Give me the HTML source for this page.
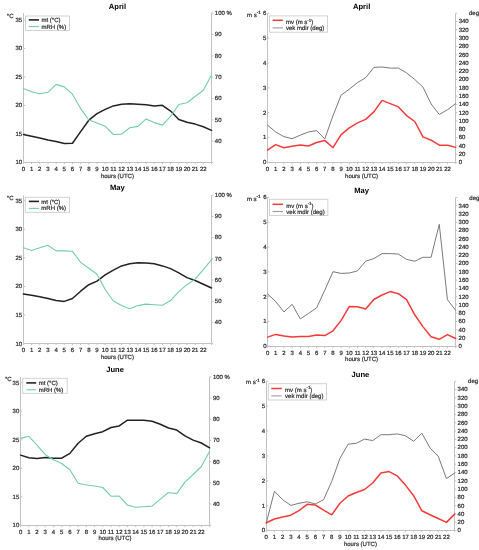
<!DOCTYPE html>
<html><head><meta charset="utf-8"><title>Monthly diurnal cycles</title>
<style>
html,body{margin:0;padding:0;background:#fff;}
body{width:479px;height:550px;overflow:hidden;}
svg{display:block;font-family:'Liberation Sans', Arial, sans-serif;text-rendering:geometricPrecision;}
</style></head><body>
<svg width="479" height="550" viewBox="0 0 479 550">
<rect width="479" height="550" fill="#fff"/>
<path d="M23.5 13.1V162.5H211.5V13.1" fill="none" stroke="#c2c2c2" stroke-width="1"/>
<line x1="23.5" y1="162.4" x2="25.3" y2="162.4" stroke="#c2c2c2" stroke-width="1"/>
<text x="22.1" y="164.25" font-size="6" text-anchor="end" font-weight="normal" fill="#2e2e2e" stroke="#2e2e2e" stroke-width="0.22">10</text>
<line x1="23.5" y1="133.9" x2="25.3" y2="133.9" stroke="#c2c2c2" stroke-width="1"/>
<text x="22.1" y="135.75" font-size="6" text-anchor="end" font-weight="normal" fill="#2e2e2e" stroke="#2e2e2e" stroke-width="0.22">15</text>
<line x1="23.5" y1="105.4" x2="25.3" y2="105.4" stroke="#c2c2c2" stroke-width="1"/>
<text x="22.1" y="107.25" font-size="6" text-anchor="end" font-weight="normal" fill="#2e2e2e" stroke="#2e2e2e" stroke-width="0.22">20</text>
<line x1="23.5" y1="76.9" x2="25.3" y2="76.9" stroke="#c2c2c2" stroke-width="1"/>
<text x="22.1" y="78.75" font-size="6" text-anchor="end" font-weight="normal" fill="#2e2e2e" stroke="#2e2e2e" stroke-width="0.22">25</text>
<line x1="23.5" y1="48.4" x2="25.3" y2="48.4" stroke="#c2c2c2" stroke-width="1"/>
<text x="22.1" y="50.25" font-size="6" text-anchor="end" font-weight="normal" fill="#2e2e2e" stroke="#2e2e2e" stroke-width="0.22">30</text>
<line x1="23.5" y1="19.9" x2="25.3" y2="19.9" stroke="#c2c2c2" stroke-width="1"/>
<text x="22.1" y="21.75" font-size="6" text-anchor="end" font-weight="normal" fill="#2e2e2e" stroke="#2e2e2e" stroke-width="0.22">35</text>
<line x1="211.5" y1="162.5" x2="213.3" y2="162.5" stroke="#c2c2c2" stroke-width="1"/>
<line x1="211.5" y1="141.16" x2="213.3" y2="141.16" stroke="#c2c2c2" stroke-width="1"/>
<text x="214.8" y="143.01" font-size="6" text-anchor="start" font-weight="normal" fill="#2e2e2e" stroke="#2e2e2e" stroke-width="0.22">40</text>
<line x1="211.5" y1="119.81" x2="213.3" y2="119.81" stroke="#c2c2c2" stroke-width="1"/>
<text x="214.8" y="121.66" font-size="6" text-anchor="start" font-weight="normal" fill="#2e2e2e" stroke="#2e2e2e" stroke-width="0.22">50</text>
<line x1="211.5" y1="98.47" x2="213.3" y2="98.47" stroke="#c2c2c2" stroke-width="1"/>
<text x="214.8" y="100.32" font-size="6" text-anchor="start" font-weight="normal" fill="#2e2e2e" stroke="#2e2e2e" stroke-width="0.22">60</text>
<line x1="211.5" y1="77.13" x2="213.3" y2="77.13" stroke="#c2c2c2" stroke-width="1"/>
<text x="214.8" y="78.98" font-size="6" text-anchor="start" font-weight="normal" fill="#2e2e2e" stroke="#2e2e2e" stroke-width="0.22">70</text>
<line x1="211.5" y1="55.79" x2="213.3" y2="55.79" stroke="#c2c2c2" stroke-width="1"/>
<text x="214.8" y="57.64" font-size="6" text-anchor="start" font-weight="normal" fill="#2e2e2e" stroke="#2e2e2e" stroke-width="0.22">80</text>
<line x1="211.5" y1="34.44" x2="213.3" y2="34.44" stroke="#c2c2c2" stroke-width="1"/>
<text x="214.8" y="36.29" font-size="6" text-anchor="start" font-weight="normal" fill="#2e2e2e" stroke="#2e2e2e" stroke-width="0.22">90</text>
<line x1="211.5" y1="13.1" x2="213.3" y2="13.1" stroke="#c2c2c2" stroke-width="1"/>
<text x="214.8" y="14.95" font-size="6" text-anchor="start" font-weight="normal" fill="#2e2e2e" stroke="#2e2e2e" stroke-width="0.22">100 %</text>
<text x="6.8" y="18.2" font-size="6" text-anchor="start" font-weight="normal" fill="#2e2e2e" stroke="#2e2e2e" stroke-width="0.22">&#176;C</text>
<line x1="23.4" y1="162.5" x2="23.4" y2="164.1" stroke="#c2c2c2" stroke-width="1"/>
<text x="23.4" y="171" font-size="6" text-anchor="middle" font-weight="normal" fill="#2e2e2e" stroke="#2e2e2e" stroke-width="0.22">0</text>
<line x1="31.58" y1="162.5" x2="31.58" y2="164.1" stroke="#c2c2c2" stroke-width="1"/>
<text x="31.58" y="171" font-size="6" text-anchor="middle" font-weight="normal" fill="#2e2e2e" stroke="#2e2e2e" stroke-width="0.22">1</text>
<line x1="39.76" y1="162.5" x2="39.76" y2="164.1" stroke="#c2c2c2" stroke-width="1"/>
<text x="39.76" y="171" font-size="6" text-anchor="middle" font-weight="normal" fill="#2e2e2e" stroke="#2e2e2e" stroke-width="0.22">2</text>
<line x1="47.93" y1="162.5" x2="47.93" y2="164.1" stroke="#c2c2c2" stroke-width="1"/>
<text x="47.93" y="171" font-size="6" text-anchor="middle" font-weight="normal" fill="#2e2e2e" stroke="#2e2e2e" stroke-width="0.22">3</text>
<line x1="56.11" y1="162.5" x2="56.11" y2="164.1" stroke="#c2c2c2" stroke-width="1"/>
<text x="56.11" y="171" font-size="6" text-anchor="middle" font-weight="normal" fill="#2e2e2e" stroke="#2e2e2e" stroke-width="0.22">4</text>
<line x1="64.29" y1="162.5" x2="64.29" y2="164.1" stroke="#c2c2c2" stroke-width="1"/>
<text x="64.29" y="171" font-size="6" text-anchor="middle" font-weight="normal" fill="#2e2e2e" stroke="#2e2e2e" stroke-width="0.22">5</text>
<line x1="72.47" y1="162.5" x2="72.47" y2="164.1" stroke="#c2c2c2" stroke-width="1"/>
<text x="72.47" y="171" font-size="6" text-anchor="middle" font-weight="normal" fill="#2e2e2e" stroke="#2e2e2e" stroke-width="0.22">6</text>
<line x1="80.65" y1="162.5" x2="80.65" y2="164.1" stroke="#c2c2c2" stroke-width="1"/>
<text x="80.65" y="171" font-size="6" text-anchor="middle" font-weight="normal" fill="#2e2e2e" stroke="#2e2e2e" stroke-width="0.22">7</text>
<line x1="88.83" y1="162.5" x2="88.83" y2="164.1" stroke="#c2c2c2" stroke-width="1"/>
<text x="88.83" y="171" font-size="6" text-anchor="middle" font-weight="normal" fill="#2e2e2e" stroke="#2e2e2e" stroke-width="0.22">8</text>
<line x1="97" y1="162.5" x2="97" y2="164.1" stroke="#c2c2c2" stroke-width="1"/>
<text x="97" y="171" font-size="6" text-anchor="middle" font-weight="normal" fill="#2e2e2e" stroke="#2e2e2e" stroke-width="0.22">9</text>
<line x1="105.18" y1="162.5" x2="105.18" y2="164.1" stroke="#c2c2c2" stroke-width="1"/>
<text x="105.18" y="171" font-size="6" text-anchor="middle" font-weight="normal" fill="#2e2e2e" stroke="#2e2e2e" stroke-width="0.22">10</text>
<line x1="113.36" y1="162.5" x2="113.36" y2="164.1" stroke="#c2c2c2" stroke-width="1"/>
<text x="113.36" y="171" font-size="6" text-anchor="middle" font-weight="normal" fill="#2e2e2e" stroke="#2e2e2e" stroke-width="0.22">11</text>
<line x1="121.54" y1="162.5" x2="121.54" y2="164.1" stroke="#c2c2c2" stroke-width="1"/>
<text x="121.54" y="171" font-size="6" text-anchor="middle" font-weight="normal" fill="#2e2e2e" stroke="#2e2e2e" stroke-width="0.22">12</text>
<line x1="129.72" y1="162.5" x2="129.72" y2="164.1" stroke="#c2c2c2" stroke-width="1"/>
<text x="129.72" y="171" font-size="6" text-anchor="middle" font-weight="normal" fill="#2e2e2e" stroke="#2e2e2e" stroke-width="0.22">13</text>
<line x1="137.9" y1="162.5" x2="137.9" y2="164.1" stroke="#c2c2c2" stroke-width="1"/>
<text x="137.9" y="171" font-size="6" text-anchor="middle" font-weight="normal" fill="#2e2e2e" stroke="#2e2e2e" stroke-width="0.22">14</text>
<line x1="146.07" y1="162.5" x2="146.07" y2="164.1" stroke="#c2c2c2" stroke-width="1"/>
<text x="146.07" y="171" font-size="6" text-anchor="middle" font-weight="normal" fill="#2e2e2e" stroke="#2e2e2e" stroke-width="0.22">15</text>
<line x1="154.25" y1="162.5" x2="154.25" y2="164.1" stroke="#c2c2c2" stroke-width="1"/>
<text x="154.25" y="171" font-size="6" text-anchor="middle" font-weight="normal" fill="#2e2e2e" stroke="#2e2e2e" stroke-width="0.22">16</text>
<line x1="162.43" y1="162.5" x2="162.43" y2="164.1" stroke="#c2c2c2" stroke-width="1"/>
<text x="162.43" y="171" font-size="6" text-anchor="middle" font-weight="normal" fill="#2e2e2e" stroke="#2e2e2e" stroke-width="0.22">17</text>
<line x1="170.61" y1="162.5" x2="170.61" y2="164.1" stroke="#c2c2c2" stroke-width="1"/>
<text x="170.61" y="171" font-size="6" text-anchor="middle" font-weight="normal" fill="#2e2e2e" stroke="#2e2e2e" stroke-width="0.22">18</text>
<line x1="178.79" y1="162.5" x2="178.79" y2="164.1" stroke="#c2c2c2" stroke-width="1"/>
<text x="178.79" y="171" font-size="6" text-anchor="middle" font-weight="normal" fill="#2e2e2e" stroke="#2e2e2e" stroke-width="0.22">19</text>
<line x1="186.97" y1="162.5" x2="186.97" y2="164.1" stroke="#c2c2c2" stroke-width="1"/>
<text x="186.97" y="171" font-size="6" text-anchor="middle" font-weight="normal" fill="#2e2e2e" stroke="#2e2e2e" stroke-width="0.22">20</text>
<line x1="195.14" y1="162.5" x2="195.14" y2="164.1" stroke="#c2c2c2" stroke-width="1"/>
<text x="195.14" y="171" font-size="6" text-anchor="middle" font-weight="normal" fill="#2e2e2e" stroke="#2e2e2e" stroke-width="0.22">21</text>
<line x1="203.32" y1="162.5" x2="203.32" y2="164.1" stroke="#c2c2c2" stroke-width="1"/>
<text x="203.32" y="171" font-size="6" text-anchor="middle" font-weight="normal" fill="#2e2e2e" stroke="#2e2e2e" stroke-width="0.22">22</text>
<line x1="211.5" y1="162.5" x2="211.5" y2="164.1" stroke="#c2c2c2" stroke-width="1"/>
<text x="117.45" y="177.6" font-size="6" text-anchor="middle" font-weight="normal" fill="#2e2e2e" stroke="#2e2e2e" stroke-width="0.22">hours (UTC)</text>
<text x="117.45" y="8.6" font-size="7.6" text-anchor="middle" font-weight="bold" fill="#000">April</text>
<polyline points="23.4,134.5 31.58,136.2 39.76,138 47.93,140.1 56.11,141.4 64.29,143.5 72.47,143.3 80.65,131.6 88.83,120.2 97,113.6 105.18,109.4 113.36,105.9 121.54,104.3 129.72,103.8 137.9,104.3 146.07,104.7 154.25,106.1 162.43,105.3 170.61,111.1 178.79,119.5 186.97,122.2 195.14,124.1 203.32,126.8 211.5,130.4" fill="none" stroke="#222222" stroke-width="1.5" stroke-linejoin="round" stroke-linecap="round"/>
<polyline points="23.4,88.6 31.58,91.7 39.76,93.8 47.93,92.3 56.11,84.4 64.29,86.9 72.47,94.2 80.65,108.6 88.83,120 97,123 105.18,126.3 113.36,134.5 121.54,134.1 129.72,127.8 137.9,126.4 146.07,118.9 154.25,122.6 162.43,125.1 170.61,116.4 178.79,104.5 186.97,102.8 195.14,96.5 203.32,90.3 211.5,75" fill="none" stroke="#74cfa2" stroke-width="1.1" stroke-linejoin="round" stroke-linecap="round"/>
<rect x="25.5" y="16" width="43.9" height="14.4" fill="#fff" stroke="#c8c8c8" stroke-width="0.8"/>
<line x1="28.8" y1="19.9" x2="39" y2="19.9" stroke="#222222" stroke-width="1.6"/>
<line x1="28.8" y1="26.6" x2="39" y2="26.6" stroke="#74cfa2" stroke-width="1.1"/>
<text x="41.5" y="22" font-size="6" text-anchor="start" font-weight="normal" fill="#2e2e2e" stroke="#2e2e2e" stroke-width="0.22">mt (&#176;C)</text>
<text x="41.5" y="28.8" font-size="6" text-anchor="start" font-weight="normal" fill="#2e2e2e" stroke="#2e2e2e" stroke-width="0.22">mRH (%)</text>
<path d="M23.5 195.25V343.5H211.5V195.25" fill="none" stroke="#c2c2c2" stroke-width="1"/>
<line x1="23.5" y1="343.7" x2="25.3" y2="343.7" stroke="#c2c2c2" stroke-width="1"/>
<text x="22.1" y="345.55" font-size="6" text-anchor="end" font-weight="normal" fill="#2e2e2e" stroke="#2e2e2e" stroke-width="0.22">10</text>
<line x1="23.5" y1="315.1" x2="25.3" y2="315.1" stroke="#c2c2c2" stroke-width="1"/>
<text x="22.1" y="316.95" font-size="6" text-anchor="end" font-weight="normal" fill="#2e2e2e" stroke="#2e2e2e" stroke-width="0.22">15</text>
<line x1="23.5" y1="286.5" x2="25.3" y2="286.5" stroke="#c2c2c2" stroke-width="1"/>
<text x="22.1" y="288.35" font-size="6" text-anchor="end" font-weight="normal" fill="#2e2e2e" stroke="#2e2e2e" stroke-width="0.22">20</text>
<line x1="23.5" y1="257.9" x2="25.3" y2="257.9" stroke="#c2c2c2" stroke-width="1"/>
<text x="22.1" y="259.75" font-size="6" text-anchor="end" font-weight="normal" fill="#2e2e2e" stroke="#2e2e2e" stroke-width="0.22">25</text>
<line x1="23.5" y1="229.3" x2="25.3" y2="229.3" stroke="#c2c2c2" stroke-width="1"/>
<text x="22.1" y="231.15" font-size="6" text-anchor="end" font-weight="normal" fill="#2e2e2e" stroke="#2e2e2e" stroke-width="0.22">30</text>
<line x1="23.5" y1="200.7" x2="25.3" y2="200.7" stroke="#c2c2c2" stroke-width="1"/>
<text x="22.1" y="202.55" font-size="6" text-anchor="end" font-weight="normal" fill="#2e2e2e" stroke="#2e2e2e" stroke-width="0.22">35</text>
<line x1="211.5" y1="343.6" x2="213.3" y2="343.6" stroke="#c2c2c2" stroke-width="1"/>
<line x1="211.5" y1="322.41" x2="213.3" y2="322.41" stroke="#c2c2c2" stroke-width="1"/>
<text x="214.8" y="324.26" font-size="6" text-anchor="start" font-weight="normal" fill="#2e2e2e" stroke="#2e2e2e" stroke-width="0.22">40</text>
<line x1="211.5" y1="301.21" x2="213.3" y2="301.21" stroke="#c2c2c2" stroke-width="1"/>
<text x="214.8" y="303.06" font-size="6" text-anchor="start" font-weight="normal" fill="#2e2e2e" stroke="#2e2e2e" stroke-width="0.22">50</text>
<line x1="211.5" y1="280.02" x2="213.3" y2="280.02" stroke="#c2c2c2" stroke-width="1"/>
<text x="214.8" y="281.87" font-size="6" text-anchor="start" font-weight="normal" fill="#2e2e2e" stroke="#2e2e2e" stroke-width="0.22">60</text>
<line x1="211.5" y1="258.83" x2="213.3" y2="258.83" stroke="#c2c2c2" stroke-width="1"/>
<text x="214.8" y="260.68" font-size="6" text-anchor="start" font-weight="normal" fill="#2e2e2e" stroke="#2e2e2e" stroke-width="0.22">70</text>
<line x1="211.5" y1="237.64" x2="213.3" y2="237.64" stroke="#c2c2c2" stroke-width="1"/>
<text x="214.8" y="239.49" font-size="6" text-anchor="start" font-weight="normal" fill="#2e2e2e" stroke="#2e2e2e" stroke-width="0.22">80</text>
<line x1="211.5" y1="216.44" x2="213.3" y2="216.44" stroke="#c2c2c2" stroke-width="1"/>
<text x="214.8" y="218.29" font-size="6" text-anchor="start" font-weight="normal" fill="#2e2e2e" stroke="#2e2e2e" stroke-width="0.22">90</text>
<line x1="211.5" y1="195.25" x2="213.3" y2="195.25" stroke="#c2c2c2" stroke-width="1"/>
<text x="214.8" y="197.1" font-size="6" text-anchor="start" font-weight="normal" fill="#2e2e2e" stroke="#2e2e2e" stroke-width="0.22">100 %</text>
<text x="6.8" y="200.2" font-size="6" text-anchor="start" font-weight="normal" fill="#2e2e2e" stroke="#2e2e2e" stroke-width="0.22">&#176;C</text>
<line x1="23.4" y1="343.5" x2="23.4" y2="345.1" stroke="#c2c2c2" stroke-width="1"/>
<text x="23.4" y="352.1" font-size="6" text-anchor="middle" font-weight="normal" fill="#2e2e2e" stroke="#2e2e2e" stroke-width="0.22">0</text>
<line x1="31.58" y1="343.5" x2="31.58" y2="345.1" stroke="#c2c2c2" stroke-width="1"/>
<text x="31.58" y="352.1" font-size="6" text-anchor="middle" font-weight="normal" fill="#2e2e2e" stroke="#2e2e2e" stroke-width="0.22">1</text>
<line x1="39.76" y1="343.5" x2="39.76" y2="345.1" stroke="#c2c2c2" stroke-width="1"/>
<text x="39.76" y="352.1" font-size="6" text-anchor="middle" font-weight="normal" fill="#2e2e2e" stroke="#2e2e2e" stroke-width="0.22">2</text>
<line x1="47.93" y1="343.5" x2="47.93" y2="345.1" stroke="#c2c2c2" stroke-width="1"/>
<text x="47.93" y="352.1" font-size="6" text-anchor="middle" font-weight="normal" fill="#2e2e2e" stroke="#2e2e2e" stroke-width="0.22">3</text>
<line x1="56.11" y1="343.5" x2="56.11" y2="345.1" stroke="#c2c2c2" stroke-width="1"/>
<text x="56.11" y="352.1" font-size="6" text-anchor="middle" font-weight="normal" fill="#2e2e2e" stroke="#2e2e2e" stroke-width="0.22">4</text>
<line x1="64.29" y1="343.5" x2="64.29" y2="345.1" stroke="#c2c2c2" stroke-width="1"/>
<text x="64.29" y="352.1" font-size="6" text-anchor="middle" font-weight="normal" fill="#2e2e2e" stroke="#2e2e2e" stroke-width="0.22">5</text>
<line x1="72.47" y1="343.5" x2="72.47" y2="345.1" stroke="#c2c2c2" stroke-width="1"/>
<text x="72.47" y="352.1" font-size="6" text-anchor="middle" font-weight="normal" fill="#2e2e2e" stroke="#2e2e2e" stroke-width="0.22">6</text>
<line x1="80.65" y1="343.5" x2="80.65" y2="345.1" stroke="#c2c2c2" stroke-width="1"/>
<text x="80.65" y="352.1" font-size="6" text-anchor="middle" font-weight="normal" fill="#2e2e2e" stroke="#2e2e2e" stroke-width="0.22">7</text>
<line x1="88.83" y1="343.5" x2="88.83" y2="345.1" stroke="#c2c2c2" stroke-width="1"/>
<text x="88.83" y="352.1" font-size="6" text-anchor="middle" font-weight="normal" fill="#2e2e2e" stroke="#2e2e2e" stroke-width="0.22">8</text>
<line x1="97" y1="343.5" x2="97" y2="345.1" stroke="#c2c2c2" stroke-width="1"/>
<text x="97" y="352.1" font-size="6" text-anchor="middle" font-weight="normal" fill="#2e2e2e" stroke="#2e2e2e" stroke-width="0.22">9</text>
<line x1="105.18" y1="343.5" x2="105.18" y2="345.1" stroke="#c2c2c2" stroke-width="1"/>
<text x="105.18" y="352.1" font-size="6" text-anchor="middle" font-weight="normal" fill="#2e2e2e" stroke="#2e2e2e" stroke-width="0.22">10</text>
<line x1="113.36" y1="343.5" x2="113.36" y2="345.1" stroke="#c2c2c2" stroke-width="1"/>
<text x="113.36" y="352.1" font-size="6" text-anchor="middle" font-weight="normal" fill="#2e2e2e" stroke="#2e2e2e" stroke-width="0.22">11</text>
<line x1="121.54" y1="343.5" x2="121.54" y2="345.1" stroke="#c2c2c2" stroke-width="1"/>
<text x="121.54" y="352.1" font-size="6" text-anchor="middle" font-weight="normal" fill="#2e2e2e" stroke="#2e2e2e" stroke-width="0.22">12</text>
<line x1="129.72" y1="343.5" x2="129.72" y2="345.1" stroke="#c2c2c2" stroke-width="1"/>
<text x="129.72" y="352.1" font-size="6" text-anchor="middle" font-weight="normal" fill="#2e2e2e" stroke="#2e2e2e" stroke-width="0.22">13</text>
<line x1="137.9" y1="343.5" x2="137.9" y2="345.1" stroke="#c2c2c2" stroke-width="1"/>
<text x="137.9" y="352.1" font-size="6" text-anchor="middle" font-weight="normal" fill="#2e2e2e" stroke="#2e2e2e" stroke-width="0.22">14</text>
<line x1="146.07" y1="343.5" x2="146.07" y2="345.1" stroke="#c2c2c2" stroke-width="1"/>
<text x="146.07" y="352.1" font-size="6" text-anchor="middle" font-weight="normal" fill="#2e2e2e" stroke="#2e2e2e" stroke-width="0.22">15</text>
<line x1="154.25" y1="343.5" x2="154.25" y2="345.1" stroke="#c2c2c2" stroke-width="1"/>
<text x="154.25" y="352.1" font-size="6" text-anchor="middle" font-weight="normal" fill="#2e2e2e" stroke="#2e2e2e" stroke-width="0.22">16</text>
<line x1="162.43" y1="343.5" x2="162.43" y2="345.1" stroke="#c2c2c2" stroke-width="1"/>
<text x="162.43" y="352.1" font-size="6" text-anchor="middle" font-weight="normal" fill="#2e2e2e" stroke="#2e2e2e" stroke-width="0.22">17</text>
<line x1="170.61" y1="343.5" x2="170.61" y2="345.1" stroke="#c2c2c2" stroke-width="1"/>
<text x="170.61" y="352.1" font-size="6" text-anchor="middle" font-weight="normal" fill="#2e2e2e" stroke="#2e2e2e" stroke-width="0.22">18</text>
<line x1="178.79" y1="343.5" x2="178.79" y2="345.1" stroke="#c2c2c2" stroke-width="1"/>
<text x="178.79" y="352.1" font-size="6" text-anchor="middle" font-weight="normal" fill="#2e2e2e" stroke="#2e2e2e" stroke-width="0.22">19</text>
<line x1="186.97" y1="343.5" x2="186.97" y2="345.1" stroke="#c2c2c2" stroke-width="1"/>
<text x="186.97" y="352.1" font-size="6" text-anchor="middle" font-weight="normal" fill="#2e2e2e" stroke="#2e2e2e" stroke-width="0.22">20</text>
<line x1="195.14" y1="343.5" x2="195.14" y2="345.1" stroke="#c2c2c2" stroke-width="1"/>
<text x="195.14" y="352.1" font-size="6" text-anchor="middle" font-weight="normal" fill="#2e2e2e" stroke="#2e2e2e" stroke-width="0.22">21</text>
<line x1="203.32" y1="343.5" x2="203.32" y2="345.1" stroke="#c2c2c2" stroke-width="1"/>
<text x="203.32" y="352.1" font-size="6" text-anchor="middle" font-weight="normal" fill="#2e2e2e" stroke="#2e2e2e" stroke-width="0.22">22</text>
<line x1="211.5" y1="343.5" x2="211.5" y2="345.1" stroke="#c2c2c2" stroke-width="1"/>
<text x="117.45" y="358.7" font-size="6" text-anchor="middle" font-weight="normal" fill="#2e2e2e" stroke="#2e2e2e" stroke-width="0.22">hours (UTC)</text>
<text x="117.45" y="190.3" font-size="7.6" text-anchor="middle" font-weight="bold" fill="#000">May</text>
<polyline points="23.4,294.1 31.58,295.3 39.76,296.8 47.93,298.5 56.11,300.4 64.29,301.4 72.47,298.5 80.65,291.2 88.83,284.7 97,281.1 105.18,274.9 113.36,270.1 121.54,265.9 129.72,263.8 137.9,262.8 146.07,263 154.25,263.8 162.43,265.9 170.61,268.6 178.79,272.8 186.97,277.6 195.14,280.5 203.32,284.3 211.5,288" fill="none" stroke="#222222" stroke-width="1.5" stroke-linejoin="round" stroke-linecap="round"/>
<polyline points="23.4,247.7 31.58,250.5 39.76,247.7 47.93,245.2 56.11,250.9 64.29,250.9 72.47,251.3 80.65,262.4 88.83,268.2 97,274.3 105.18,289.5 113.36,301 121.54,305.6 129.72,308.7 137.9,305.6 146.07,304.1 154.25,304.7 162.43,305.2 170.61,300.6 178.79,291.6 186.97,284.7 195.14,279.1 203.32,269.7 211.5,259.6" fill="none" stroke="#74cfa2" stroke-width="1.1" stroke-linejoin="round" stroke-linecap="round"/>
<rect x="25.25" y="197.25" width="44.35" height="15.05" fill="#fff" stroke="#c8c8c8" stroke-width="0.8"/>
<line x1="28.8" y1="201.4" x2="39" y2="201.4" stroke="#222222" stroke-width="1.6"/>
<line x1="28.8" y1="208.4" x2="39" y2="208.4" stroke="#74cfa2" stroke-width="1.1"/>
<text x="41.3" y="203.8" font-size="6" text-anchor="start" font-weight="normal" fill="#2e2e2e" stroke="#2e2e2e" stroke-width="0.22">mt (&#176;C)</text>
<text x="41.3" y="210" font-size="6" text-anchor="start" font-weight="normal" fill="#2e2e2e" stroke="#2e2e2e" stroke-width="0.22">mRH (%)</text>
<path d="M20.5 376.9V525.5H209.5V376.9" fill="none" stroke="#c2c2c2" stroke-width="1"/>
<line x1="20.5" y1="525.3" x2="22.3" y2="525.3" stroke="#c2c2c2" stroke-width="1"/>
<text x="19.3" y="527.15" font-size="6" text-anchor="end" font-weight="normal" fill="#2e2e2e" stroke="#2e2e2e" stroke-width="0.22">10</text>
<line x1="20.5" y1="496.8" x2="22.3" y2="496.8" stroke="#c2c2c2" stroke-width="1"/>
<text x="19.3" y="498.65" font-size="6" text-anchor="end" font-weight="normal" fill="#2e2e2e" stroke="#2e2e2e" stroke-width="0.22">15</text>
<line x1="20.5" y1="468.3" x2="22.3" y2="468.3" stroke="#c2c2c2" stroke-width="1"/>
<text x="19.3" y="470.15" font-size="6" text-anchor="end" font-weight="normal" fill="#2e2e2e" stroke="#2e2e2e" stroke-width="0.22">20</text>
<line x1="20.5" y1="439.8" x2="22.3" y2="439.8" stroke="#c2c2c2" stroke-width="1"/>
<text x="19.3" y="441.65" font-size="6" text-anchor="end" font-weight="normal" fill="#2e2e2e" stroke="#2e2e2e" stroke-width="0.22">25</text>
<line x1="20.5" y1="411.3" x2="22.3" y2="411.3" stroke="#c2c2c2" stroke-width="1"/>
<text x="19.3" y="413.15" font-size="6" text-anchor="end" font-weight="normal" fill="#2e2e2e" stroke="#2e2e2e" stroke-width="0.22">30</text>
<line x1="20.5" y1="382.8" x2="22.3" y2="382.8" stroke="#c2c2c2" stroke-width="1"/>
<text x="19.3" y="384.65" font-size="6" text-anchor="end" font-weight="normal" fill="#2e2e2e" stroke="#2e2e2e" stroke-width="0.22">35</text>
<line x1="209.5" y1="525.25" x2="211.3" y2="525.25" stroke="#c2c2c2" stroke-width="1"/>
<line x1="209.5" y1="504.06" x2="211.3" y2="504.06" stroke="#c2c2c2" stroke-width="1"/>
<text x="212.9" y="505.91" font-size="6" text-anchor="start" font-weight="normal" fill="#2e2e2e" stroke="#2e2e2e" stroke-width="0.22">40</text>
<line x1="209.5" y1="482.86" x2="211.3" y2="482.86" stroke="#c2c2c2" stroke-width="1"/>
<text x="212.9" y="484.71" font-size="6" text-anchor="start" font-weight="normal" fill="#2e2e2e" stroke="#2e2e2e" stroke-width="0.22">50</text>
<line x1="209.5" y1="461.67" x2="211.3" y2="461.67" stroke="#c2c2c2" stroke-width="1"/>
<text x="212.9" y="463.52" font-size="6" text-anchor="start" font-weight="normal" fill="#2e2e2e" stroke="#2e2e2e" stroke-width="0.22">60</text>
<line x1="209.5" y1="440.48" x2="211.3" y2="440.48" stroke="#c2c2c2" stroke-width="1"/>
<text x="212.9" y="442.33" font-size="6" text-anchor="start" font-weight="normal" fill="#2e2e2e" stroke="#2e2e2e" stroke-width="0.22">70</text>
<line x1="209.5" y1="419.29" x2="211.3" y2="419.29" stroke="#c2c2c2" stroke-width="1"/>
<text x="212.9" y="421.14" font-size="6" text-anchor="start" font-weight="normal" fill="#2e2e2e" stroke="#2e2e2e" stroke-width="0.22">80</text>
<line x1="209.5" y1="398.09" x2="211.3" y2="398.09" stroke="#c2c2c2" stroke-width="1"/>
<text x="212.9" y="399.94" font-size="6" text-anchor="start" font-weight="normal" fill="#2e2e2e" stroke="#2e2e2e" stroke-width="0.22">90</text>
<line x1="209.5" y1="376.9" x2="211.3" y2="376.9" stroke="#c2c2c2" stroke-width="1"/>
<text x="212.9" y="378.75" font-size="6" text-anchor="start" font-weight="normal" fill="#2e2e2e" stroke="#2e2e2e" stroke-width="0.22">100 %</text>
<text x="4.9" y="381.4" font-size="6" text-anchor="start" font-weight="normal" fill="#2e2e2e" stroke="#2e2e2e" stroke-width="0.22">&#176;C</text>
<line x1="20.6" y1="525.5" x2="20.6" y2="527.1" stroke="#c2c2c2" stroke-width="1"/>
<text x="20.6" y="533.75" font-size="6" text-anchor="middle" font-weight="normal" fill="#2e2e2e" stroke="#2e2e2e" stroke-width="0.22">0</text>
<line x1="28.82" y1="525.5" x2="28.82" y2="527.1" stroke="#c2c2c2" stroke-width="1"/>
<text x="28.82" y="533.75" font-size="6" text-anchor="middle" font-weight="normal" fill="#2e2e2e" stroke="#2e2e2e" stroke-width="0.22">1</text>
<line x1="37.03" y1="525.5" x2="37.03" y2="527.1" stroke="#c2c2c2" stroke-width="1"/>
<text x="37.03" y="533.75" font-size="6" text-anchor="middle" font-weight="normal" fill="#2e2e2e" stroke="#2e2e2e" stroke-width="0.22">2</text>
<line x1="45.25" y1="525.5" x2="45.25" y2="527.1" stroke="#c2c2c2" stroke-width="1"/>
<text x="45.25" y="533.75" font-size="6" text-anchor="middle" font-weight="normal" fill="#2e2e2e" stroke="#2e2e2e" stroke-width="0.22">3</text>
<line x1="53.47" y1="525.5" x2="53.47" y2="527.1" stroke="#c2c2c2" stroke-width="1"/>
<text x="53.47" y="533.75" font-size="6" text-anchor="middle" font-weight="normal" fill="#2e2e2e" stroke="#2e2e2e" stroke-width="0.22">4</text>
<line x1="61.69" y1="525.5" x2="61.69" y2="527.1" stroke="#c2c2c2" stroke-width="1"/>
<text x="61.69" y="533.75" font-size="6" text-anchor="middle" font-weight="normal" fill="#2e2e2e" stroke="#2e2e2e" stroke-width="0.22">5</text>
<line x1="69.9" y1="525.5" x2="69.9" y2="527.1" stroke="#c2c2c2" stroke-width="1"/>
<text x="69.9" y="533.75" font-size="6" text-anchor="middle" font-weight="normal" fill="#2e2e2e" stroke="#2e2e2e" stroke-width="0.22">6</text>
<line x1="78.12" y1="525.5" x2="78.12" y2="527.1" stroke="#c2c2c2" stroke-width="1"/>
<text x="78.12" y="533.75" font-size="6" text-anchor="middle" font-weight="normal" fill="#2e2e2e" stroke="#2e2e2e" stroke-width="0.22">7</text>
<line x1="86.34" y1="525.5" x2="86.34" y2="527.1" stroke="#c2c2c2" stroke-width="1"/>
<text x="86.34" y="533.75" font-size="6" text-anchor="middle" font-weight="normal" fill="#2e2e2e" stroke="#2e2e2e" stroke-width="0.22">8</text>
<line x1="94.56" y1="525.5" x2="94.56" y2="527.1" stroke="#c2c2c2" stroke-width="1"/>
<text x="94.56" y="533.75" font-size="6" text-anchor="middle" font-weight="normal" fill="#2e2e2e" stroke="#2e2e2e" stroke-width="0.22">9</text>
<line x1="102.77" y1="525.5" x2="102.77" y2="527.1" stroke="#c2c2c2" stroke-width="1"/>
<text x="102.77" y="533.75" font-size="6" text-anchor="middle" font-weight="normal" fill="#2e2e2e" stroke="#2e2e2e" stroke-width="0.22">10</text>
<line x1="110.99" y1="525.5" x2="110.99" y2="527.1" stroke="#c2c2c2" stroke-width="1"/>
<text x="110.99" y="533.75" font-size="6" text-anchor="middle" font-weight="normal" fill="#2e2e2e" stroke="#2e2e2e" stroke-width="0.22">11</text>
<line x1="119.21" y1="525.5" x2="119.21" y2="527.1" stroke="#c2c2c2" stroke-width="1"/>
<text x="119.21" y="533.75" font-size="6" text-anchor="middle" font-weight="normal" fill="#2e2e2e" stroke="#2e2e2e" stroke-width="0.22">12</text>
<line x1="127.43" y1="525.5" x2="127.43" y2="527.1" stroke="#c2c2c2" stroke-width="1"/>
<text x="127.43" y="533.75" font-size="6" text-anchor="middle" font-weight="normal" fill="#2e2e2e" stroke="#2e2e2e" stroke-width="0.22">13</text>
<line x1="135.64" y1="525.5" x2="135.64" y2="527.1" stroke="#c2c2c2" stroke-width="1"/>
<text x="135.64" y="533.75" font-size="6" text-anchor="middle" font-weight="normal" fill="#2e2e2e" stroke="#2e2e2e" stroke-width="0.22">14</text>
<line x1="143.86" y1="525.5" x2="143.86" y2="527.1" stroke="#c2c2c2" stroke-width="1"/>
<text x="143.86" y="533.75" font-size="6" text-anchor="middle" font-weight="normal" fill="#2e2e2e" stroke="#2e2e2e" stroke-width="0.22">15</text>
<line x1="152.08" y1="525.5" x2="152.08" y2="527.1" stroke="#c2c2c2" stroke-width="1"/>
<text x="152.08" y="533.75" font-size="6" text-anchor="middle" font-weight="normal" fill="#2e2e2e" stroke="#2e2e2e" stroke-width="0.22">16</text>
<line x1="160.3" y1="525.5" x2="160.3" y2="527.1" stroke="#c2c2c2" stroke-width="1"/>
<text x="160.3" y="533.75" font-size="6" text-anchor="middle" font-weight="normal" fill="#2e2e2e" stroke="#2e2e2e" stroke-width="0.22">17</text>
<line x1="168.51" y1="525.5" x2="168.51" y2="527.1" stroke="#c2c2c2" stroke-width="1"/>
<text x="168.51" y="533.75" font-size="6" text-anchor="middle" font-weight="normal" fill="#2e2e2e" stroke="#2e2e2e" stroke-width="0.22">18</text>
<line x1="176.73" y1="525.5" x2="176.73" y2="527.1" stroke="#c2c2c2" stroke-width="1"/>
<text x="176.73" y="533.75" font-size="6" text-anchor="middle" font-weight="normal" fill="#2e2e2e" stroke="#2e2e2e" stroke-width="0.22">19</text>
<line x1="184.95" y1="525.5" x2="184.95" y2="527.1" stroke="#c2c2c2" stroke-width="1"/>
<text x="184.95" y="533.75" font-size="6" text-anchor="middle" font-weight="normal" fill="#2e2e2e" stroke="#2e2e2e" stroke-width="0.22">20</text>
<line x1="193.17" y1="525.5" x2="193.17" y2="527.1" stroke="#c2c2c2" stroke-width="1"/>
<text x="193.17" y="533.75" font-size="6" text-anchor="middle" font-weight="normal" fill="#2e2e2e" stroke="#2e2e2e" stroke-width="0.22">21</text>
<line x1="201.38" y1="525.5" x2="201.38" y2="527.1" stroke="#c2c2c2" stroke-width="1"/>
<text x="201.38" y="533.75" font-size="6" text-anchor="middle" font-weight="normal" fill="#2e2e2e" stroke="#2e2e2e" stroke-width="0.22">22</text>
<line x1="209.6" y1="525.5" x2="209.6" y2="527.1" stroke="#c2c2c2" stroke-width="1"/>
<text x="115.1" y="540.35" font-size="6" text-anchor="middle" font-weight="normal" fill="#2e2e2e" stroke="#2e2e2e" stroke-width="0.22">hours (UTC)</text>
<text x="115.1" y="371.7" font-size="7.6" text-anchor="middle" font-weight="bold" fill="#000">June</text>
<polyline points="20.6,455.1 28.82,457.8 37.03,458.4 45.25,457.6 53.47,458.2 61.69,458.2 69.9,453.4 78.12,443.2 86.34,436.3 94.56,433.8 102.77,431.7 110.99,427.5 119.21,425.9 127.43,420.2 135.64,420.2 143.86,420.2 152.08,421.3 160.3,424.2 168.51,428 176.73,430.1 184.95,435.9 193.17,440.1 201.38,443 209.6,447.8" fill="none" stroke="#222222" stroke-width="1.5" stroke-linejoin="round" stroke-linecap="round"/>
<polyline points="20.6,438.4 28.82,436.3 37.03,445.1 45.25,454.7 53.47,459.7 61.69,463.5 69.9,469.7 78.12,483.3 86.34,485 94.56,486 102.77,487.5 110.99,496.2 119.21,496.1 127.43,505.1 135.64,507.2 143.86,506.7 152.08,506.1 160.3,499.2 168.51,492.5 176.73,493.6 184.95,482.1 193.17,474.5 201.38,466.5 209.6,451.3" fill="none" stroke="#74cfa2" stroke-width="1.1" stroke-linejoin="round" stroke-linecap="round"/>
<rect x="22.75" y="378.25" width="44.45" height="15.05" fill="#fff" stroke="#c8c8c8" stroke-width="0.8"/>
<line x1="26.3" y1="382.9" x2="36.2" y2="382.9" stroke="#222222" stroke-width="1.6"/>
<line x1="26.3" y1="389.8" x2="36.2" y2="389.8" stroke="#74cfa2" stroke-width="1.1"/>
<text x="38.7" y="385.2" font-size="6" text-anchor="start" font-weight="normal" fill="#2e2e2e" stroke="#2e2e2e" stroke-width="0.22">mt (&#176;C)</text>
<text x="38.7" y="391.8" font-size="6" text-anchor="start" font-weight="normal" fill="#2e2e2e" stroke="#2e2e2e" stroke-width="0.22">mRH (%)</text>
<path d="M267.5 13.3V162.5H455.5V13.3" fill="none" stroke="#c2c2c2" stroke-width="1"/>
<line x1="267.5" y1="162.4" x2="269.3" y2="162.4" stroke="#c2c2c2" stroke-width="1"/>
<text x="266.4" y="164.25" font-size="6" text-anchor="end" font-weight="normal" fill="#2e2e2e" stroke="#2e2e2e" stroke-width="0.22">0</text>
<line x1="267.5" y1="137.55" x2="269.3" y2="137.55" stroke="#c2c2c2" stroke-width="1"/>
<text x="266.4" y="139.4" font-size="6" text-anchor="end" font-weight="normal" fill="#2e2e2e" stroke="#2e2e2e" stroke-width="0.22">1</text>
<line x1="267.5" y1="112.7" x2="269.3" y2="112.7" stroke="#c2c2c2" stroke-width="1"/>
<text x="266.4" y="114.55" font-size="6" text-anchor="end" font-weight="normal" fill="#2e2e2e" stroke="#2e2e2e" stroke-width="0.22">2</text>
<line x1="267.5" y1="87.85" x2="269.3" y2="87.85" stroke="#c2c2c2" stroke-width="1"/>
<text x="266.4" y="89.7" font-size="6" text-anchor="end" font-weight="normal" fill="#2e2e2e" stroke="#2e2e2e" stroke-width="0.22">3</text>
<line x1="267.5" y1="63" x2="269.3" y2="63" stroke="#c2c2c2" stroke-width="1"/>
<text x="266.4" y="64.85" font-size="6" text-anchor="end" font-weight="normal" fill="#2e2e2e" stroke="#2e2e2e" stroke-width="0.22">4</text>
<line x1="267.5" y1="38.15" x2="269.3" y2="38.15" stroke="#c2c2c2" stroke-width="1"/>
<text x="266.4" y="40" font-size="6" text-anchor="end" font-weight="normal" fill="#2e2e2e" stroke="#2e2e2e" stroke-width="0.22">5</text>
<line x1="267.5" y1="13.3" x2="269.3" y2="13.3" stroke="#c2c2c2" stroke-width="1"/>
<text x="266.4" y="15.15" font-size="6" text-anchor="end" font-weight="normal" fill="#2e2e2e" stroke="#2e2e2e" stroke-width="0.22">6</text>
<line x1="455.5" y1="162.4" x2="457.3" y2="162.4" stroke="#c2c2c2" stroke-width="1"/>
<text x="458.7" y="164.25" font-size="6" text-anchor="start" font-weight="normal" fill="#2e2e2e" stroke="#2e2e2e" stroke-width="0.22">0</text>
<line x1="455.5" y1="154.12" x2="457.3" y2="154.12" stroke="#c2c2c2" stroke-width="1"/>
<text x="458.7" y="155.97" font-size="6" text-anchor="start" font-weight="normal" fill="#2e2e2e" stroke="#2e2e2e" stroke-width="0.22">20</text>
<line x1="455.5" y1="145.83" x2="457.3" y2="145.83" stroke="#c2c2c2" stroke-width="1"/>
<text x="458.7" y="147.68" font-size="6" text-anchor="start" font-weight="normal" fill="#2e2e2e" stroke="#2e2e2e" stroke-width="0.22">40</text>
<line x1="455.5" y1="137.55" x2="457.3" y2="137.55" stroke="#c2c2c2" stroke-width="1"/>
<text x="458.7" y="139.4" font-size="6" text-anchor="start" font-weight="normal" fill="#2e2e2e" stroke="#2e2e2e" stroke-width="0.22">60</text>
<line x1="455.5" y1="129.27" x2="457.3" y2="129.27" stroke="#c2c2c2" stroke-width="1"/>
<text x="458.7" y="131.12" font-size="6" text-anchor="start" font-weight="normal" fill="#2e2e2e" stroke="#2e2e2e" stroke-width="0.22">80</text>
<line x1="455.5" y1="120.98" x2="457.3" y2="120.98" stroke="#c2c2c2" stroke-width="1"/>
<text x="458.7" y="122.83" font-size="6" text-anchor="start" font-weight="normal" fill="#2e2e2e" stroke="#2e2e2e" stroke-width="0.22">100</text>
<line x1="455.5" y1="112.7" x2="457.3" y2="112.7" stroke="#c2c2c2" stroke-width="1"/>
<text x="458.7" y="114.55" font-size="6" text-anchor="start" font-weight="normal" fill="#2e2e2e" stroke="#2e2e2e" stroke-width="0.22">120</text>
<line x1="455.5" y1="104.42" x2="457.3" y2="104.42" stroke="#c2c2c2" stroke-width="1"/>
<text x="458.7" y="106.27" font-size="6" text-anchor="start" font-weight="normal" fill="#2e2e2e" stroke="#2e2e2e" stroke-width="0.22">140</text>
<line x1="455.5" y1="96.13" x2="457.3" y2="96.13" stroke="#c2c2c2" stroke-width="1"/>
<text x="458.7" y="97.98" font-size="6" text-anchor="start" font-weight="normal" fill="#2e2e2e" stroke="#2e2e2e" stroke-width="0.22">160</text>
<line x1="455.5" y1="87.85" x2="457.3" y2="87.85" stroke="#c2c2c2" stroke-width="1"/>
<text x="458.7" y="89.7" font-size="6" text-anchor="start" font-weight="normal" fill="#2e2e2e" stroke="#2e2e2e" stroke-width="0.22">180</text>
<line x1="455.5" y1="79.57" x2="457.3" y2="79.57" stroke="#c2c2c2" stroke-width="1"/>
<text x="458.7" y="81.42" font-size="6" text-anchor="start" font-weight="normal" fill="#2e2e2e" stroke="#2e2e2e" stroke-width="0.22">200</text>
<line x1="455.5" y1="71.28" x2="457.3" y2="71.28" stroke="#c2c2c2" stroke-width="1"/>
<text x="458.7" y="73.13" font-size="6" text-anchor="start" font-weight="normal" fill="#2e2e2e" stroke="#2e2e2e" stroke-width="0.22">220</text>
<line x1="455.5" y1="63" x2="457.3" y2="63" stroke="#c2c2c2" stroke-width="1"/>
<text x="458.7" y="64.85" font-size="6" text-anchor="start" font-weight="normal" fill="#2e2e2e" stroke="#2e2e2e" stroke-width="0.22">240</text>
<line x1="455.5" y1="54.72" x2="457.3" y2="54.72" stroke="#c2c2c2" stroke-width="1"/>
<text x="458.7" y="56.57" font-size="6" text-anchor="start" font-weight="normal" fill="#2e2e2e" stroke="#2e2e2e" stroke-width="0.22">260</text>
<line x1="455.5" y1="46.43" x2="457.3" y2="46.43" stroke="#c2c2c2" stroke-width="1"/>
<text x="458.7" y="48.28" font-size="6" text-anchor="start" font-weight="normal" fill="#2e2e2e" stroke="#2e2e2e" stroke-width="0.22">280</text>
<line x1="455.5" y1="38.15" x2="457.3" y2="38.15" stroke="#c2c2c2" stroke-width="1"/>
<text x="458.7" y="40" font-size="6" text-anchor="start" font-weight="normal" fill="#2e2e2e" stroke="#2e2e2e" stroke-width="0.22">300</text>
<line x1="455.5" y1="29.87" x2="457.3" y2="29.87" stroke="#c2c2c2" stroke-width="1"/>
<text x="458.7" y="31.72" font-size="6" text-anchor="start" font-weight="normal" fill="#2e2e2e" stroke="#2e2e2e" stroke-width="0.22">320</text>
<line x1="455.5" y1="21.58" x2="457.3" y2="21.58" stroke="#c2c2c2" stroke-width="1"/>
<text x="458.7" y="23.43" font-size="6" text-anchor="start" font-weight="normal" fill="#2e2e2e" stroke="#2e2e2e" stroke-width="0.22">340</text>
<line x1="455.5" y1="13.3" x2="457.3" y2="13.3" stroke="#c2c2c2" stroke-width="1"/>
<text x="247" y="16.7" font-size="6" text-anchor="start" font-weight="normal" fill="#2e2e2e" stroke="#2e2e2e" stroke-width="0.22">m s<tspan dy="-2.6" font-size="4.6">-1</tspan></text>
<text x="469" y="15" font-size="6" text-anchor="start" font-weight="normal" fill="#2e2e2e" stroke="#2e2e2e" stroke-width="0.22">deg</text>
<line x1="267.5" y1="162.5" x2="267.5" y2="164.1" stroke="#c2c2c2" stroke-width="1"/>
<text x="267.5" y="170.9" font-size="6" text-anchor="middle" font-weight="normal" fill="#2e2e2e" stroke="#2e2e2e" stroke-width="0.22">0</text>
<line x1="275.68" y1="162.5" x2="275.68" y2="164.1" stroke="#c2c2c2" stroke-width="1"/>
<text x="275.68" y="170.9" font-size="6" text-anchor="middle" font-weight="normal" fill="#2e2e2e" stroke="#2e2e2e" stroke-width="0.22">1</text>
<line x1="283.87" y1="162.5" x2="283.87" y2="164.1" stroke="#c2c2c2" stroke-width="1"/>
<text x="283.87" y="170.9" font-size="6" text-anchor="middle" font-weight="normal" fill="#2e2e2e" stroke="#2e2e2e" stroke-width="0.22">2</text>
<line x1="292.05" y1="162.5" x2="292.05" y2="164.1" stroke="#c2c2c2" stroke-width="1"/>
<text x="292.05" y="170.9" font-size="6" text-anchor="middle" font-weight="normal" fill="#2e2e2e" stroke="#2e2e2e" stroke-width="0.22">3</text>
<line x1="300.23" y1="162.5" x2="300.23" y2="164.1" stroke="#c2c2c2" stroke-width="1"/>
<text x="300.23" y="170.9" font-size="6" text-anchor="middle" font-weight="normal" fill="#2e2e2e" stroke="#2e2e2e" stroke-width="0.22">4</text>
<line x1="308.41" y1="162.5" x2="308.41" y2="164.1" stroke="#c2c2c2" stroke-width="1"/>
<text x="308.41" y="170.9" font-size="6" text-anchor="middle" font-weight="normal" fill="#2e2e2e" stroke="#2e2e2e" stroke-width="0.22">5</text>
<line x1="316.6" y1="162.5" x2="316.6" y2="164.1" stroke="#c2c2c2" stroke-width="1"/>
<text x="316.6" y="170.9" font-size="6" text-anchor="middle" font-weight="normal" fill="#2e2e2e" stroke="#2e2e2e" stroke-width="0.22">6</text>
<line x1="324.78" y1="162.5" x2="324.78" y2="164.1" stroke="#c2c2c2" stroke-width="1"/>
<text x="324.78" y="170.9" font-size="6" text-anchor="middle" font-weight="normal" fill="#2e2e2e" stroke="#2e2e2e" stroke-width="0.22">7</text>
<line x1="332.96" y1="162.5" x2="332.96" y2="164.1" stroke="#c2c2c2" stroke-width="1"/>
<text x="332.96" y="170.9" font-size="6" text-anchor="middle" font-weight="normal" fill="#2e2e2e" stroke="#2e2e2e" stroke-width="0.22">8</text>
<line x1="341.14" y1="162.5" x2="341.14" y2="164.1" stroke="#c2c2c2" stroke-width="1"/>
<text x="341.14" y="170.9" font-size="6" text-anchor="middle" font-weight="normal" fill="#2e2e2e" stroke="#2e2e2e" stroke-width="0.22">9</text>
<line x1="349.33" y1="162.5" x2="349.33" y2="164.1" stroke="#c2c2c2" stroke-width="1"/>
<text x="349.33" y="170.9" font-size="6" text-anchor="middle" font-weight="normal" fill="#2e2e2e" stroke="#2e2e2e" stroke-width="0.22">10</text>
<line x1="357.51" y1="162.5" x2="357.51" y2="164.1" stroke="#c2c2c2" stroke-width="1"/>
<text x="357.51" y="170.9" font-size="6" text-anchor="middle" font-weight="normal" fill="#2e2e2e" stroke="#2e2e2e" stroke-width="0.22">11</text>
<line x1="365.69" y1="162.5" x2="365.69" y2="164.1" stroke="#c2c2c2" stroke-width="1"/>
<text x="365.69" y="170.9" font-size="6" text-anchor="middle" font-weight="normal" fill="#2e2e2e" stroke="#2e2e2e" stroke-width="0.22">12</text>
<line x1="373.87" y1="162.5" x2="373.87" y2="164.1" stroke="#c2c2c2" stroke-width="1"/>
<text x="373.87" y="170.9" font-size="6" text-anchor="middle" font-weight="normal" fill="#2e2e2e" stroke="#2e2e2e" stroke-width="0.22">13</text>
<line x1="382.06" y1="162.5" x2="382.06" y2="164.1" stroke="#c2c2c2" stroke-width="1"/>
<text x="382.06" y="170.9" font-size="6" text-anchor="middle" font-weight="normal" fill="#2e2e2e" stroke="#2e2e2e" stroke-width="0.22">14</text>
<line x1="390.24" y1="162.5" x2="390.24" y2="164.1" stroke="#c2c2c2" stroke-width="1"/>
<text x="390.24" y="170.9" font-size="6" text-anchor="middle" font-weight="normal" fill="#2e2e2e" stroke="#2e2e2e" stroke-width="0.22">15</text>
<line x1="398.42" y1="162.5" x2="398.42" y2="164.1" stroke="#c2c2c2" stroke-width="1"/>
<text x="398.42" y="170.9" font-size="6" text-anchor="middle" font-weight="normal" fill="#2e2e2e" stroke="#2e2e2e" stroke-width="0.22">16</text>
<line x1="406.6" y1="162.5" x2="406.6" y2="164.1" stroke="#c2c2c2" stroke-width="1"/>
<text x="406.6" y="170.9" font-size="6" text-anchor="middle" font-weight="normal" fill="#2e2e2e" stroke="#2e2e2e" stroke-width="0.22">17</text>
<line x1="414.79" y1="162.5" x2="414.79" y2="164.1" stroke="#c2c2c2" stroke-width="1"/>
<text x="414.79" y="170.9" font-size="6" text-anchor="middle" font-weight="normal" fill="#2e2e2e" stroke="#2e2e2e" stroke-width="0.22">18</text>
<line x1="422.97" y1="162.5" x2="422.97" y2="164.1" stroke="#c2c2c2" stroke-width="1"/>
<text x="422.97" y="170.9" font-size="6" text-anchor="middle" font-weight="normal" fill="#2e2e2e" stroke="#2e2e2e" stroke-width="0.22">19</text>
<line x1="431.15" y1="162.5" x2="431.15" y2="164.1" stroke="#c2c2c2" stroke-width="1"/>
<text x="431.15" y="170.9" font-size="6" text-anchor="middle" font-weight="normal" fill="#2e2e2e" stroke="#2e2e2e" stroke-width="0.22">20</text>
<line x1="439.33" y1="162.5" x2="439.33" y2="164.1" stroke="#c2c2c2" stroke-width="1"/>
<text x="439.33" y="170.9" font-size="6" text-anchor="middle" font-weight="normal" fill="#2e2e2e" stroke="#2e2e2e" stroke-width="0.22">21</text>
<line x1="447.52" y1="162.5" x2="447.52" y2="164.1" stroke="#c2c2c2" stroke-width="1"/>
<text x="447.52" y="170.9" font-size="6" text-anchor="middle" font-weight="normal" fill="#2e2e2e" stroke="#2e2e2e" stroke-width="0.22">22</text>
<line x1="455.7" y1="162.5" x2="455.7" y2="164.1" stroke="#c2c2c2" stroke-width="1"/>
<text x="361.6" y="177.5" font-size="6" text-anchor="middle" font-weight="normal" fill="#2e2e2e" stroke="#2e2e2e" stroke-width="0.22">hours (UTC)</text>
<text x="361.6" y="8.6" font-size="7.6" text-anchor="middle" font-weight="bold" fill="#000">April</text>
<polyline points="267.5,125.1 275.68,132 283.87,136.6 292.05,138.7 300.23,135.2 308.41,132 316.6,130.6 324.78,138.9 332.96,115.8 341.14,95.1 349.33,89.2 357.51,82.6 365.69,77.7 373.87,67.4 382.06,67 390.24,68.1 398.42,68.1 406.6,72.9 414.79,79.5 422.97,87.1 431.15,104 439.33,114.5 447.52,109.7 455.7,103.6" fill="none" stroke="#7a7a7a" stroke-width="1.0" stroke-linejoin="round" stroke-linecap="round"/>
<polyline points="267.5,150.2 275.68,144.6 283.87,147.7 292.05,146.2 300.23,145 308.41,146 316.6,142.5 324.78,140.4 332.96,147.7 341.14,134.6 349.33,127.8 357.51,122.9 365.69,119.4 373.87,111.9 382.06,100.4 390.24,103.6 398.42,106.9 406.6,115.6 414.79,121.5 422.97,136.9 431.15,140.2 439.33,145.2 447.52,145.2 455.7,147.4" fill="none" stroke="#f53a3a" stroke-width="1.5" stroke-linejoin="round" stroke-linecap="round"/>
<rect x="269.6" y="15.9" width="58" height="16.3" fill="#fff" stroke="#c8c8c8" stroke-width="0.8"/>
<line x1="272.7" y1="20.3" x2="282.9" y2="20.3" stroke="#f53a3a" stroke-width="1.5"/>
<line x1="272.7" y1="27.9" x2="282.9" y2="27.9" stroke="#9a9a9a" stroke-width="1.1"/>
<text x="286" y="24" font-size="6" text-anchor="start" font-weight="normal" fill="#2e2e2e" stroke="#2e2e2e" stroke-width="0.22">mv (m s<tspan dy="-2.4" font-size="4.4">-1</tspan><tspan dy="2.4">)</tspan></text>
<text x="286" y="29.9" font-size="6" text-anchor="start" font-weight="normal" fill="#2e2e2e" stroke="#2e2e2e" stroke-width="0.22">vek mdir (deg)</text>
<path d="M267.5 197.5V346.5H455.5V197.5" fill="none" stroke="#c2c2c2" stroke-width="1"/>
<line x1="267.5" y1="346.25" x2="269.3" y2="346.25" stroke="#c2c2c2" stroke-width="1"/>
<text x="266.5" y="348.1" font-size="6" text-anchor="end" font-weight="normal" fill="#2e2e2e" stroke="#2e2e2e" stroke-width="0.22">0</text>
<line x1="267.5" y1="321.46" x2="269.3" y2="321.46" stroke="#c2c2c2" stroke-width="1"/>
<text x="266.5" y="323.31" font-size="6" text-anchor="end" font-weight="normal" fill="#2e2e2e" stroke="#2e2e2e" stroke-width="0.22">1</text>
<line x1="267.5" y1="296.67" x2="269.3" y2="296.67" stroke="#c2c2c2" stroke-width="1"/>
<text x="266.5" y="298.52" font-size="6" text-anchor="end" font-weight="normal" fill="#2e2e2e" stroke="#2e2e2e" stroke-width="0.22">2</text>
<line x1="267.5" y1="271.88" x2="269.3" y2="271.88" stroke="#c2c2c2" stroke-width="1"/>
<text x="266.5" y="273.73" font-size="6" text-anchor="end" font-weight="normal" fill="#2e2e2e" stroke="#2e2e2e" stroke-width="0.22">3</text>
<line x1="267.5" y1="247.08" x2="269.3" y2="247.08" stroke="#c2c2c2" stroke-width="1"/>
<text x="266.5" y="248.93" font-size="6" text-anchor="end" font-weight="normal" fill="#2e2e2e" stroke="#2e2e2e" stroke-width="0.22">4</text>
<line x1="267.5" y1="222.29" x2="269.3" y2="222.29" stroke="#c2c2c2" stroke-width="1"/>
<text x="266.5" y="224.14" font-size="6" text-anchor="end" font-weight="normal" fill="#2e2e2e" stroke="#2e2e2e" stroke-width="0.22">5</text>
<line x1="267.5" y1="197.5" x2="269.3" y2="197.5" stroke="#c2c2c2" stroke-width="1"/>
<text x="266.5" y="199.35" font-size="6" text-anchor="end" font-weight="normal" fill="#2e2e2e" stroke="#2e2e2e" stroke-width="0.22">6</text>
<line x1="455.5" y1="346.25" x2="457.3" y2="346.25" stroke="#c2c2c2" stroke-width="1"/>
<text x="458.6" y="348.1" font-size="6" text-anchor="start" font-weight="normal" fill="#2e2e2e" stroke="#2e2e2e" stroke-width="0.22">0</text>
<line x1="455.5" y1="337.99" x2="457.3" y2="337.99" stroke="#c2c2c2" stroke-width="1"/>
<text x="458.6" y="339.84" font-size="6" text-anchor="start" font-weight="normal" fill="#2e2e2e" stroke="#2e2e2e" stroke-width="0.22">20</text>
<line x1="455.5" y1="329.72" x2="457.3" y2="329.72" stroke="#c2c2c2" stroke-width="1"/>
<text x="458.6" y="331.57" font-size="6" text-anchor="start" font-weight="normal" fill="#2e2e2e" stroke="#2e2e2e" stroke-width="0.22">40</text>
<line x1="455.5" y1="321.46" x2="457.3" y2="321.46" stroke="#c2c2c2" stroke-width="1"/>
<text x="458.6" y="323.31" font-size="6" text-anchor="start" font-weight="normal" fill="#2e2e2e" stroke="#2e2e2e" stroke-width="0.22">60</text>
<line x1="455.5" y1="313.19" x2="457.3" y2="313.19" stroke="#c2c2c2" stroke-width="1"/>
<text x="458.6" y="315.04" font-size="6" text-anchor="start" font-weight="normal" fill="#2e2e2e" stroke="#2e2e2e" stroke-width="0.22">80</text>
<line x1="455.5" y1="304.93" x2="457.3" y2="304.93" stroke="#c2c2c2" stroke-width="1"/>
<text x="458.6" y="306.78" font-size="6" text-anchor="start" font-weight="normal" fill="#2e2e2e" stroke="#2e2e2e" stroke-width="0.22">100</text>
<line x1="455.5" y1="296.67" x2="457.3" y2="296.67" stroke="#c2c2c2" stroke-width="1"/>
<text x="458.6" y="298.52" font-size="6" text-anchor="start" font-weight="normal" fill="#2e2e2e" stroke="#2e2e2e" stroke-width="0.22">120</text>
<line x1="455.5" y1="288.4" x2="457.3" y2="288.4" stroke="#c2c2c2" stroke-width="1"/>
<text x="458.6" y="290.25" font-size="6" text-anchor="start" font-weight="normal" fill="#2e2e2e" stroke="#2e2e2e" stroke-width="0.22">140</text>
<line x1="455.5" y1="280.14" x2="457.3" y2="280.14" stroke="#c2c2c2" stroke-width="1"/>
<text x="458.6" y="281.99" font-size="6" text-anchor="start" font-weight="normal" fill="#2e2e2e" stroke="#2e2e2e" stroke-width="0.22">160</text>
<line x1="455.5" y1="271.88" x2="457.3" y2="271.88" stroke="#c2c2c2" stroke-width="1"/>
<text x="458.6" y="273.73" font-size="6" text-anchor="start" font-weight="normal" fill="#2e2e2e" stroke="#2e2e2e" stroke-width="0.22">180</text>
<line x1="455.5" y1="263.61" x2="457.3" y2="263.61" stroke="#c2c2c2" stroke-width="1"/>
<text x="458.6" y="265.46" font-size="6" text-anchor="start" font-weight="normal" fill="#2e2e2e" stroke="#2e2e2e" stroke-width="0.22">200</text>
<line x1="455.5" y1="255.35" x2="457.3" y2="255.35" stroke="#c2c2c2" stroke-width="1"/>
<text x="458.6" y="257.2" font-size="6" text-anchor="start" font-weight="normal" fill="#2e2e2e" stroke="#2e2e2e" stroke-width="0.22">220</text>
<line x1="455.5" y1="247.08" x2="457.3" y2="247.08" stroke="#c2c2c2" stroke-width="1"/>
<text x="458.6" y="248.93" font-size="6" text-anchor="start" font-weight="normal" fill="#2e2e2e" stroke="#2e2e2e" stroke-width="0.22">240</text>
<line x1="455.5" y1="238.82" x2="457.3" y2="238.82" stroke="#c2c2c2" stroke-width="1"/>
<text x="458.6" y="240.67" font-size="6" text-anchor="start" font-weight="normal" fill="#2e2e2e" stroke="#2e2e2e" stroke-width="0.22">260</text>
<line x1="455.5" y1="230.56" x2="457.3" y2="230.56" stroke="#c2c2c2" stroke-width="1"/>
<text x="458.6" y="232.41" font-size="6" text-anchor="start" font-weight="normal" fill="#2e2e2e" stroke="#2e2e2e" stroke-width="0.22">280</text>
<line x1="455.5" y1="222.29" x2="457.3" y2="222.29" stroke="#c2c2c2" stroke-width="1"/>
<text x="458.6" y="224.14" font-size="6" text-anchor="start" font-weight="normal" fill="#2e2e2e" stroke="#2e2e2e" stroke-width="0.22">300</text>
<line x1="455.5" y1="214.03" x2="457.3" y2="214.03" stroke="#c2c2c2" stroke-width="1"/>
<text x="458.6" y="215.88" font-size="6" text-anchor="start" font-weight="normal" fill="#2e2e2e" stroke="#2e2e2e" stroke-width="0.22">320</text>
<line x1="455.5" y1="205.76" x2="457.3" y2="205.76" stroke="#c2c2c2" stroke-width="1"/>
<text x="458.6" y="207.61" font-size="6" text-anchor="start" font-weight="normal" fill="#2e2e2e" stroke="#2e2e2e" stroke-width="0.22">340</text>
<line x1="455.5" y1="197.5" x2="457.3" y2="197.5" stroke="#c2c2c2" stroke-width="1"/>
<text x="246.9" y="200.6" font-size="6" text-anchor="start" font-weight="normal" fill="#2e2e2e" stroke="#2e2e2e" stroke-width="0.22">m s<tspan dy="-2.6" font-size="4.6">-1</tspan></text>
<text x="469.3" y="199.7" font-size="6" text-anchor="start" font-weight="normal" fill="#2e2e2e" stroke="#2e2e2e" stroke-width="0.22">deg</text>
<line x1="267.6" y1="346.5" x2="267.6" y2="348.1" stroke="#c2c2c2" stroke-width="1"/>
<text x="267.6" y="354.75" font-size="6" text-anchor="middle" font-weight="normal" fill="#2e2e2e" stroke="#2e2e2e" stroke-width="0.22">0</text>
<line x1="275.77" y1="346.5" x2="275.77" y2="348.1" stroke="#c2c2c2" stroke-width="1"/>
<text x="275.77" y="354.75" font-size="6" text-anchor="middle" font-weight="normal" fill="#2e2e2e" stroke="#2e2e2e" stroke-width="0.22">1</text>
<line x1="283.95" y1="346.5" x2="283.95" y2="348.1" stroke="#c2c2c2" stroke-width="1"/>
<text x="283.95" y="354.75" font-size="6" text-anchor="middle" font-weight="normal" fill="#2e2e2e" stroke="#2e2e2e" stroke-width="0.22">2</text>
<line x1="292.12" y1="346.5" x2="292.12" y2="348.1" stroke="#c2c2c2" stroke-width="1"/>
<text x="292.12" y="354.75" font-size="6" text-anchor="middle" font-weight="normal" fill="#2e2e2e" stroke="#2e2e2e" stroke-width="0.22">3</text>
<line x1="300.3" y1="346.5" x2="300.3" y2="348.1" stroke="#c2c2c2" stroke-width="1"/>
<text x="300.3" y="354.75" font-size="6" text-anchor="middle" font-weight="normal" fill="#2e2e2e" stroke="#2e2e2e" stroke-width="0.22">4</text>
<line x1="308.47" y1="346.5" x2="308.47" y2="348.1" stroke="#c2c2c2" stroke-width="1"/>
<text x="308.47" y="354.75" font-size="6" text-anchor="middle" font-weight="normal" fill="#2e2e2e" stroke="#2e2e2e" stroke-width="0.22">5</text>
<line x1="316.64" y1="346.5" x2="316.64" y2="348.1" stroke="#c2c2c2" stroke-width="1"/>
<text x="316.64" y="354.75" font-size="6" text-anchor="middle" font-weight="normal" fill="#2e2e2e" stroke="#2e2e2e" stroke-width="0.22">6</text>
<line x1="324.82" y1="346.5" x2="324.82" y2="348.1" stroke="#c2c2c2" stroke-width="1"/>
<text x="324.82" y="354.75" font-size="6" text-anchor="middle" font-weight="normal" fill="#2e2e2e" stroke="#2e2e2e" stroke-width="0.22">7</text>
<line x1="332.99" y1="346.5" x2="332.99" y2="348.1" stroke="#c2c2c2" stroke-width="1"/>
<text x="332.99" y="354.75" font-size="6" text-anchor="middle" font-weight="normal" fill="#2e2e2e" stroke="#2e2e2e" stroke-width="0.22">8</text>
<line x1="341.17" y1="346.5" x2="341.17" y2="348.1" stroke="#c2c2c2" stroke-width="1"/>
<text x="341.17" y="354.75" font-size="6" text-anchor="middle" font-weight="normal" fill="#2e2e2e" stroke="#2e2e2e" stroke-width="0.22">9</text>
<line x1="349.34" y1="346.5" x2="349.34" y2="348.1" stroke="#c2c2c2" stroke-width="1"/>
<text x="349.34" y="354.75" font-size="6" text-anchor="middle" font-weight="normal" fill="#2e2e2e" stroke="#2e2e2e" stroke-width="0.22">10</text>
<line x1="357.51" y1="346.5" x2="357.51" y2="348.1" stroke="#c2c2c2" stroke-width="1"/>
<text x="357.51" y="354.75" font-size="6" text-anchor="middle" font-weight="normal" fill="#2e2e2e" stroke="#2e2e2e" stroke-width="0.22">11</text>
<line x1="365.69" y1="346.5" x2="365.69" y2="348.1" stroke="#c2c2c2" stroke-width="1"/>
<text x="365.69" y="354.75" font-size="6" text-anchor="middle" font-weight="normal" fill="#2e2e2e" stroke="#2e2e2e" stroke-width="0.22">12</text>
<line x1="373.86" y1="346.5" x2="373.86" y2="348.1" stroke="#c2c2c2" stroke-width="1"/>
<text x="373.86" y="354.75" font-size="6" text-anchor="middle" font-weight="normal" fill="#2e2e2e" stroke="#2e2e2e" stroke-width="0.22">13</text>
<line x1="382.03" y1="346.5" x2="382.03" y2="348.1" stroke="#c2c2c2" stroke-width="1"/>
<text x="382.03" y="354.75" font-size="6" text-anchor="middle" font-weight="normal" fill="#2e2e2e" stroke="#2e2e2e" stroke-width="0.22">14</text>
<line x1="390.21" y1="346.5" x2="390.21" y2="348.1" stroke="#c2c2c2" stroke-width="1"/>
<text x="390.21" y="354.75" font-size="6" text-anchor="middle" font-weight="normal" fill="#2e2e2e" stroke="#2e2e2e" stroke-width="0.22">15</text>
<line x1="398.38" y1="346.5" x2="398.38" y2="348.1" stroke="#c2c2c2" stroke-width="1"/>
<text x="398.38" y="354.75" font-size="6" text-anchor="middle" font-weight="normal" fill="#2e2e2e" stroke="#2e2e2e" stroke-width="0.22">16</text>
<line x1="406.56" y1="346.5" x2="406.56" y2="348.1" stroke="#c2c2c2" stroke-width="1"/>
<text x="406.56" y="354.75" font-size="6" text-anchor="middle" font-weight="normal" fill="#2e2e2e" stroke="#2e2e2e" stroke-width="0.22">17</text>
<line x1="414.73" y1="346.5" x2="414.73" y2="348.1" stroke="#c2c2c2" stroke-width="1"/>
<text x="414.73" y="354.75" font-size="6" text-anchor="middle" font-weight="normal" fill="#2e2e2e" stroke="#2e2e2e" stroke-width="0.22">18</text>
<line x1="422.9" y1="346.5" x2="422.9" y2="348.1" stroke="#c2c2c2" stroke-width="1"/>
<text x="422.9" y="354.75" font-size="6" text-anchor="middle" font-weight="normal" fill="#2e2e2e" stroke="#2e2e2e" stroke-width="0.22">19</text>
<line x1="431.08" y1="346.5" x2="431.08" y2="348.1" stroke="#c2c2c2" stroke-width="1"/>
<text x="431.08" y="354.75" font-size="6" text-anchor="middle" font-weight="normal" fill="#2e2e2e" stroke="#2e2e2e" stroke-width="0.22">20</text>
<line x1="439.25" y1="346.5" x2="439.25" y2="348.1" stroke="#c2c2c2" stroke-width="1"/>
<text x="439.25" y="354.75" font-size="6" text-anchor="middle" font-weight="normal" fill="#2e2e2e" stroke="#2e2e2e" stroke-width="0.22">21</text>
<line x1="447.43" y1="346.5" x2="447.43" y2="348.1" stroke="#c2c2c2" stroke-width="1"/>
<text x="447.43" y="354.75" font-size="6" text-anchor="middle" font-weight="normal" fill="#2e2e2e" stroke="#2e2e2e" stroke-width="0.22">22</text>
<line x1="455.6" y1="346.5" x2="455.6" y2="348.1" stroke="#c2c2c2" stroke-width="1"/>
<text x="361.6" y="361.35" font-size="6" text-anchor="middle" font-weight="normal" fill="#2e2e2e" stroke="#2e2e2e" stroke-width="0.22">hours (UTC)</text>
<text x="361.6" y="192.6" font-size="7.6" text-anchor="middle" font-weight="bold" fill="#000">May</text>
<polyline points="267.6,293.9 275.77,301.6 283.95,312 292.12,304.3 300.3,318.9 308.47,313.5 316.64,307.8 324.82,290.1 332.99,271.7 341.17,273.4 349.34,273 357.51,270.9 365.69,261.2 373.86,258.6 382.03,253.6 390.21,253.6 398.38,254.1 406.56,259.4 414.73,261.2 422.9,257.3 431.08,257.3 439.25,224.3 447.43,299.7 455.6,310.3" fill="none" stroke="#7a7a7a" stroke-width="1.0" stroke-linejoin="round" stroke-linecap="round"/>
<polyline points="267.6,337.1 275.77,334.4 283.95,336 292.12,337.1 300.3,336.5 308.47,336.5 316.64,335 324.82,335.6 332.99,330.8 341.17,320.4 349.34,306.4 357.51,306.8 365.69,309 373.86,299.5 382.03,295 390.21,291.6 398.38,293.7 406.56,299.7 414.73,314.8 422.9,326.6 431.08,336.7 439.25,339.3 447.43,334.6 455.6,338.5" fill="none" stroke="#f53a3a" stroke-width="1.5" stroke-linejoin="round" stroke-linecap="round"/>
<rect x="269.5" y="199.25" width="58.4" height="16.25" fill="#fff" stroke="#c8c8c8" stroke-width="0.8"/>
<line x1="272.5" y1="204.3" x2="283" y2="204.3" stroke="#f53a3a" stroke-width="1.5"/>
<line x1="272.5" y1="211.5" x2="283" y2="211.5" stroke="#9a9a9a" stroke-width="1.1"/>
<text x="286.3" y="207.8" font-size="6" text-anchor="start" font-weight="normal" fill="#2e2e2e" stroke="#2e2e2e" stroke-width="0.22">mv (m s<tspan dy="-2.4" font-size="4.4">-1</tspan><tspan dy="2.4">)</tspan></text>
<text x="286.3" y="214" font-size="6" text-anchor="start" font-weight="normal" fill="#2e2e2e" stroke="#2e2e2e" stroke-width="0.22">vek mdir (deg)</text>
<path d="M266.5 381.25V530.5H454.5V381.25" fill="none" stroke="#c2c2c2" stroke-width="1"/>
<line x1="266.5" y1="530.6" x2="268.3" y2="530.6" stroke="#c2c2c2" stroke-width="1"/>
<text x="265.15" y="532.45" font-size="6" text-anchor="end" font-weight="normal" fill="#2e2e2e" stroke="#2e2e2e" stroke-width="0.22">0</text>
<line x1="266.5" y1="505.71" x2="268.3" y2="505.71" stroke="#c2c2c2" stroke-width="1"/>
<text x="265.15" y="507.56" font-size="6" text-anchor="end" font-weight="normal" fill="#2e2e2e" stroke="#2e2e2e" stroke-width="0.22">1</text>
<line x1="266.5" y1="480.82" x2="268.3" y2="480.82" stroke="#c2c2c2" stroke-width="1"/>
<text x="265.15" y="482.67" font-size="6" text-anchor="end" font-weight="normal" fill="#2e2e2e" stroke="#2e2e2e" stroke-width="0.22">2</text>
<line x1="266.5" y1="455.93" x2="268.3" y2="455.93" stroke="#c2c2c2" stroke-width="1"/>
<text x="265.15" y="457.78" font-size="6" text-anchor="end" font-weight="normal" fill="#2e2e2e" stroke="#2e2e2e" stroke-width="0.22">3</text>
<line x1="266.5" y1="431.03" x2="268.3" y2="431.03" stroke="#c2c2c2" stroke-width="1"/>
<text x="265.15" y="432.88" font-size="6" text-anchor="end" font-weight="normal" fill="#2e2e2e" stroke="#2e2e2e" stroke-width="0.22">4</text>
<line x1="266.5" y1="406.14" x2="268.3" y2="406.14" stroke="#c2c2c2" stroke-width="1"/>
<text x="265.15" y="407.99" font-size="6" text-anchor="end" font-weight="normal" fill="#2e2e2e" stroke="#2e2e2e" stroke-width="0.22">5</text>
<line x1="266.5" y1="381.25" x2="268.3" y2="381.25" stroke="#c2c2c2" stroke-width="1"/>
<text x="265.15" y="383.1" font-size="6" text-anchor="end" font-weight="normal" fill="#2e2e2e" stroke="#2e2e2e" stroke-width="0.22">6</text>
<line x1="454.5" y1="530.6" x2="456.3" y2="530.6" stroke="#c2c2c2" stroke-width="1"/>
<text x="457.6" y="532.45" font-size="6" text-anchor="start" font-weight="normal" fill="#2e2e2e" stroke="#2e2e2e" stroke-width="0.22">0</text>
<line x1="454.5" y1="522.3" x2="456.3" y2="522.3" stroke="#c2c2c2" stroke-width="1"/>
<text x="457.6" y="524.15" font-size="6" text-anchor="start" font-weight="normal" fill="#2e2e2e" stroke="#2e2e2e" stroke-width="0.22">20</text>
<line x1="454.5" y1="514.01" x2="456.3" y2="514.01" stroke="#c2c2c2" stroke-width="1"/>
<text x="457.6" y="515.86" font-size="6" text-anchor="start" font-weight="normal" fill="#2e2e2e" stroke="#2e2e2e" stroke-width="0.22">40</text>
<line x1="454.5" y1="505.71" x2="456.3" y2="505.71" stroke="#c2c2c2" stroke-width="1"/>
<text x="457.6" y="507.56" font-size="6" text-anchor="start" font-weight="normal" fill="#2e2e2e" stroke="#2e2e2e" stroke-width="0.22">60</text>
<line x1="454.5" y1="497.41" x2="456.3" y2="497.41" stroke="#c2c2c2" stroke-width="1"/>
<text x="457.6" y="499.26" font-size="6" text-anchor="start" font-weight="normal" fill="#2e2e2e" stroke="#2e2e2e" stroke-width="0.22">80</text>
<line x1="454.5" y1="489.11" x2="456.3" y2="489.11" stroke="#c2c2c2" stroke-width="1"/>
<text x="457.6" y="490.96" font-size="6" text-anchor="start" font-weight="normal" fill="#2e2e2e" stroke="#2e2e2e" stroke-width="0.22">100</text>
<line x1="454.5" y1="480.82" x2="456.3" y2="480.82" stroke="#c2c2c2" stroke-width="1"/>
<text x="457.6" y="482.67" font-size="6" text-anchor="start" font-weight="normal" fill="#2e2e2e" stroke="#2e2e2e" stroke-width="0.22">120</text>
<line x1="454.5" y1="472.52" x2="456.3" y2="472.52" stroke="#c2c2c2" stroke-width="1"/>
<text x="457.6" y="474.37" font-size="6" text-anchor="start" font-weight="normal" fill="#2e2e2e" stroke="#2e2e2e" stroke-width="0.22">140</text>
<line x1="454.5" y1="464.22" x2="456.3" y2="464.22" stroke="#c2c2c2" stroke-width="1"/>
<text x="457.6" y="466.07" font-size="6" text-anchor="start" font-weight="normal" fill="#2e2e2e" stroke="#2e2e2e" stroke-width="0.22">160</text>
<line x1="454.5" y1="455.93" x2="456.3" y2="455.93" stroke="#c2c2c2" stroke-width="1"/>
<text x="457.6" y="457.78" font-size="6" text-anchor="start" font-weight="normal" fill="#2e2e2e" stroke="#2e2e2e" stroke-width="0.22">180</text>
<line x1="454.5" y1="447.63" x2="456.3" y2="447.63" stroke="#c2c2c2" stroke-width="1"/>
<text x="457.6" y="449.48" font-size="6" text-anchor="start" font-weight="normal" fill="#2e2e2e" stroke="#2e2e2e" stroke-width="0.22">200</text>
<line x1="454.5" y1="439.33" x2="456.3" y2="439.33" stroke="#c2c2c2" stroke-width="1"/>
<text x="457.6" y="441.18" font-size="6" text-anchor="start" font-weight="normal" fill="#2e2e2e" stroke="#2e2e2e" stroke-width="0.22">220</text>
<line x1="454.5" y1="431.03" x2="456.3" y2="431.03" stroke="#c2c2c2" stroke-width="1"/>
<text x="457.6" y="432.88" font-size="6" text-anchor="start" font-weight="normal" fill="#2e2e2e" stroke="#2e2e2e" stroke-width="0.22">240</text>
<line x1="454.5" y1="422.74" x2="456.3" y2="422.74" stroke="#c2c2c2" stroke-width="1"/>
<text x="457.6" y="424.59" font-size="6" text-anchor="start" font-weight="normal" fill="#2e2e2e" stroke="#2e2e2e" stroke-width="0.22">260</text>
<line x1="454.5" y1="414.44" x2="456.3" y2="414.44" stroke="#c2c2c2" stroke-width="1"/>
<text x="457.6" y="416.29" font-size="6" text-anchor="start" font-weight="normal" fill="#2e2e2e" stroke="#2e2e2e" stroke-width="0.22">280</text>
<line x1="454.5" y1="406.14" x2="456.3" y2="406.14" stroke="#c2c2c2" stroke-width="1"/>
<text x="457.6" y="407.99" font-size="6" text-anchor="start" font-weight="normal" fill="#2e2e2e" stroke="#2e2e2e" stroke-width="0.22">300</text>
<line x1="454.5" y1="397.84" x2="456.3" y2="397.84" stroke="#c2c2c2" stroke-width="1"/>
<text x="457.6" y="399.69" font-size="6" text-anchor="start" font-weight="normal" fill="#2e2e2e" stroke="#2e2e2e" stroke-width="0.22">320</text>
<line x1="454.5" y1="389.55" x2="456.3" y2="389.55" stroke="#c2c2c2" stroke-width="1"/>
<text x="457.6" y="391.4" font-size="6" text-anchor="start" font-weight="normal" fill="#2e2e2e" stroke="#2e2e2e" stroke-width="0.22">340</text>
<line x1="454.5" y1="381.25" x2="456.3" y2="381.25" stroke="#c2c2c2" stroke-width="1"/>
<text x="246" y="384.4" font-size="6" text-anchor="start" font-weight="normal" fill="#2e2e2e" stroke="#2e2e2e" stroke-width="0.22">m s<tspan dy="-2.6" font-size="4.6">-1</tspan></text>
<text x="468.1" y="383.4" font-size="6" text-anchor="start" font-weight="normal" fill="#2e2e2e" stroke="#2e2e2e" stroke-width="0.22">deg</text>
<line x1="266.25" y1="530.5" x2="266.25" y2="532.1" stroke="#c2c2c2" stroke-width="1"/>
<text x="266.25" y="539.1" font-size="6" text-anchor="middle" font-weight="normal" fill="#2e2e2e" stroke="#2e2e2e" stroke-width="0.22">0</text>
<line x1="274.44" y1="530.5" x2="274.44" y2="532.1" stroke="#c2c2c2" stroke-width="1"/>
<text x="274.44" y="539.1" font-size="6" text-anchor="middle" font-weight="normal" fill="#2e2e2e" stroke="#2e2e2e" stroke-width="0.22">1</text>
<line x1="282.63" y1="530.5" x2="282.63" y2="532.1" stroke="#c2c2c2" stroke-width="1"/>
<text x="282.63" y="539.1" font-size="6" text-anchor="middle" font-weight="normal" fill="#2e2e2e" stroke="#2e2e2e" stroke-width="0.22">2</text>
<line x1="290.82" y1="530.5" x2="290.82" y2="532.1" stroke="#c2c2c2" stroke-width="1"/>
<text x="290.82" y="539.1" font-size="6" text-anchor="middle" font-weight="normal" fill="#2e2e2e" stroke="#2e2e2e" stroke-width="0.22">3</text>
<line x1="299.01" y1="530.5" x2="299.01" y2="532.1" stroke="#c2c2c2" stroke-width="1"/>
<text x="299.01" y="539.1" font-size="6" text-anchor="middle" font-weight="normal" fill="#2e2e2e" stroke="#2e2e2e" stroke-width="0.22">4</text>
<line x1="307.2" y1="530.5" x2="307.2" y2="532.1" stroke="#c2c2c2" stroke-width="1"/>
<text x="307.2" y="539.1" font-size="6" text-anchor="middle" font-weight="normal" fill="#2e2e2e" stroke="#2e2e2e" stroke-width="0.22">5</text>
<line x1="315.38" y1="530.5" x2="315.38" y2="532.1" stroke="#c2c2c2" stroke-width="1"/>
<text x="315.38" y="539.1" font-size="6" text-anchor="middle" font-weight="normal" fill="#2e2e2e" stroke="#2e2e2e" stroke-width="0.22">6</text>
<line x1="323.57" y1="530.5" x2="323.57" y2="532.1" stroke="#c2c2c2" stroke-width="1"/>
<text x="323.57" y="539.1" font-size="6" text-anchor="middle" font-weight="normal" fill="#2e2e2e" stroke="#2e2e2e" stroke-width="0.22">7</text>
<line x1="331.76" y1="530.5" x2="331.76" y2="532.1" stroke="#c2c2c2" stroke-width="1"/>
<text x="331.76" y="539.1" font-size="6" text-anchor="middle" font-weight="normal" fill="#2e2e2e" stroke="#2e2e2e" stroke-width="0.22">8</text>
<line x1="339.95" y1="530.5" x2="339.95" y2="532.1" stroke="#c2c2c2" stroke-width="1"/>
<text x="339.95" y="539.1" font-size="6" text-anchor="middle" font-weight="normal" fill="#2e2e2e" stroke="#2e2e2e" stroke-width="0.22">9</text>
<line x1="348.14" y1="530.5" x2="348.14" y2="532.1" stroke="#c2c2c2" stroke-width="1"/>
<text x="348.14" y="539.1" font-size="6" text-anchor="middle" font-weight="normal" fill="#2e2e2e" stroke="#2e2e2e" stroke-width="0.22">10</text>
<line x1="356.33" y1="530.5" x2="356.33" y2="532.1" stroke="#c2c2c2" stroke-width="1"/>
<text x="356.33" y="539.1" font-size="6" text-anchor="middle" font-weight="normal" fill="#2e2e2e" stroke="#2e2e2e" stroke-width="0.22">11</text>
<line x1="364.52" y1="530.5" x2="364.52" y2="532.1" stroke="#c2c2c2" stroke-width="1"/>
<text x="364.52" y="539.1" font-size="6" text-anchor="middle" font-weight="normal" fill="#2e2e2e" stroke="#2e2e2e" stroke-width="0.22">12</text>
<line x1="372.71" y1="530.5" x2="372.71" y2="532.1" stroke="#c2c2c2" stroke-width="1"/>
<text x="372.71" y="539.1" font-size="6" text-anchor="middle" font-weight="normal" fill="#2e2e2e" stroke="#2e2e2e" stroke-width="0.22">13</text>
<line x1="380.9" y1="530.5" x2="380.9" y2="532.1" stroke="#c2c2c2" stroke-width="1"/>
<text x="380.9" y="539.1" font-size="6" text-anchor="middle" font-weight="normal" fill="#2e2e2e" stroke="#2e2e2e" stroke-width="0.22">14</text>
<line x1="389.09" y1="530.5" x2="389.09" y2="532.1" stroke="#c2c2c2" stroke-width="1"/>
<text x="389.09" y="539.1" font-size="6" text-anchor="middle" font-weight="normal" fill="#2e2e2e" stroke="#2e2e2e" stroke-width="0.22">15</text>
<line x1="397.28" y1="530.5" x2="397.28" y2="532.1" stroke="#c2c2c2" stroke-width="1"/>
<text x="397.28" y="539.1" font-size="6" text-anchor="middle" font-weight="normal" fill="#2e2e2e" stroke="#2e2e2e" stroke-width="0.22">16</text>
<line x1="405.47" y1="530.5" x2="405.47" y2="532.1" stroke="#c2c2c2" stroke-width="1"/>
<text x="405.47" y="539.1" font-size="6" text-anchor="middle" font-weight="normal" fill="#2e2e2e" stroke="#2e2e2e" stroke-width="0.22">17</text>
<line x1="413.65" y1="530.5" x2="413.65" y2="532.1" stroke="#c2c2c2" stroke-width="1"/>
<text x="413.65" y="539.1" font-size="6" text-anchor="middle" font-weight="normal" fill="#2e2e2e" stroke="#2e2e2e" stroke-width="0.22">18</text>
<line x1="421.84" y1="530.5" x2="421.84" y2="532.1" stroke="#c2c2c2" stroke-width="1"/>
<text x="421.84" y="539.1" font-size="6" text-anchor="middle" font-weight="normal" fill="#2e2e2e" stroke="#2e2e2e" stroke-width="0.22">19</text>
<line x1="430.03" y1="530.5" x2="430.03" y2="532.1" stroke="#c2c2c2" stroke-width="1"/>
<text x="430.03" y="539.1" font-size="6" text-anchor="middle" font-weight="normal" fill="#2e2e2e" stroke="#2e2e2e" stroke-width="0.22">20</text>
<line x1="438.22" y1="530.5" x2="438.22" y2="532.1" stroke="#c2c2c2" stroke-width="1"/>
<text x="438.22" y="539.1" font-size="6" text-anchor="middle" font-weight="normal" fill="#2e2e2e" stroke="#2e2e2e" stroke-width="0.22">21</text>
<line x1="446.41" y1="530.5" x2="446.41" y2="532.1" stroke="#c2c2c2" stroke-width="1"/>
<text x="446.41" y="539.1" font-size="6" text-anchor="middle" font-weight="normal" fill="#2e2e2e" stroke="#2e2e2e" stroke-width="0.22">22</text>
<line x1="454.6" y1="530.5" x2="454.6" y2="532.1" stroke="#c2c2c2" stroke-width="1"/>
<text x="360.43" y="545.7" font-size="6" text-anchor="middle" font-weight="normal" fill="#2e2e2e" stroke="#2e2e2e" stroke-width="0.22">hours (UTC)</text>
<text x="360.43" y="376.7" font-size="7.6" text-anchor="middle" font-weight="bold" fill="#000">June</text>
<polyline points="266.25,523.1 274.44,491.2 282.63,499.7 290.82,505.4 299.01,503.3 307.2,501.8 315.38,503.9 323.57,499.7 331.76,481.4 339.95,458.4 348.14,444.2 356.33,443.3 364.52,439.1 372.71,440.6 380.9,434.7 389.09,434.7 397.28,433.9 405.47,435.8 413.65,441.3 421.84,433.2 430.03,447.9 438.22,456.2 446.41,478.6 454.6,473.1" fill="none" stroke="#7a7a7a" stroke-width="1.0" stroke-linejoin="round" stroke-linecap="round"/>
<polyline points="266.25,522.7 274.44,519 282.63,516.9 290.82,515.2 299.01,510.6 307.2,504.3 315.38,505 323.57,510.2 331.76,514.8 339.95,503.3 348.14,496 356.33,492.5 364.52,489.5 372.71,483 380.9,473.1 389.09,471.6 397.28,475.9 405.47,485.1 413.65,495.7 421.84,510.8 430.03,514.7 438.22,518.5 446.41,522.4 454.6,514.1" fill="none" stroke="#f53a3a" stroke-width="1.5" stroke-linejoin="round" stroke-linecap="round"/>
<rect x="268.25" y="383.75" width="58.35" height="16.25" fill="#fff" stroke="#c8c8c8" stroke-width="0.8"/>
<line x1="271.3" y1="388.5" x2="281.8" y2="388.5" stroke="#f53a3a" stroke-width="1.5"/>
<line x1="271.3" y1="395.9" x2="281.8" y2="395.9" stroke="#9a9a9a" stroke-width="1.1"/>
<text x="285.1" y="391.8" font-size="6" text-anchor="start" font-weight="normal" fill="#2e2e2e" stroke="#2e2e2e" stroke-width="0.22">mv (m s<tspan dy="-2.4" font-size="4.4">-1</tspan><tspan dy="2.4">)</tspan></text>
<text x="285.1" y="398.3" font-size="6" text-anchor="start" font-weight="normal" fill="#2e2e2e" stroke="#2e2e2e" stroke-width="0.22">vek mdir (deg)</text>
</svg>
</body></html>
